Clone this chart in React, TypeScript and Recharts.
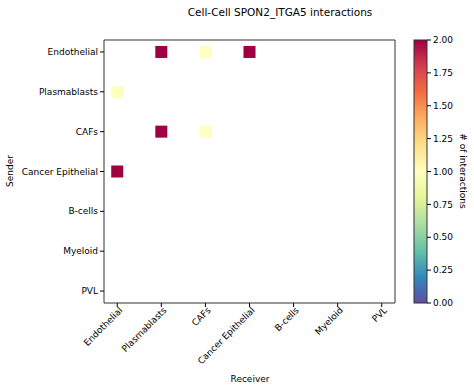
import React from 'react';
import {
  ScatterChart,
  Scatter,
  XAxis,
  YAxis,
  ReferenceArea,
} from 'recharts';

const receivers = ['Endothelial', 'Plasmablasts', 'CAFs', 'Cancer Epithelial', 'B-cells', 'Myeloid', 'PVL'];
const senders = ['Endothelial', 'Plasmablasts', 'CAFs', 'Cancer Epithelial', 'B-cells', 'Myeloid', 'PVL'];

// [receiver, sender, count]
const interactions: [string, string, number][] = [
  ['Plasmablasts', 'Endothelial', 2],
  ['CAFs', 'Endothelial', 1],
  ['Cancer Epithelial', 'Endothelial', 2],
  ['Endothelial', 'Plasmablasts', 1],
  ['Plasmablasts', 'CAFs', 2],
  ['CAFs', 'CAFs', 1],
  ['Endothelial', 'Cancer Epithelial', 2],
];

const colorbarTicks = [0, 0.25, 0.5, 0.75, 1, 1.25, 1.5, 1.75, 2];
const vmin = 0;
const vmax = 2;

// Spectral_r
const spectral = ['#5e4fa2', '#3288bd', '#66c2a5', '#abdda4', '#e6f598', '#ffffbf', '#fee08b', '#fdae61', '#f46d43', '#d53e4f', '#9e0142'];

const hex = (h: string) => [1, 3, 5].map((i) => parseInt(h.slice(i, i + 2), 16));
const colorFor = (v: number) => {
  const t = Math.max(0, Math.min(1, (v - vmin) / (vmax - vmin))) * (spectral.length - 1);
  const i = Math.min(Math.floor(t), spectral.length - 2);
  const f = t - i;
  const a = hex(spectral[i]);
  const b = hex(spectral[i + 1]);
  const c = a.map((x, k) => Math.round(x + (b[k] - x) * f));
  return `rgb(${c[0]},${c[1]},${c[2]})`;
};

const data = interactions.map(([r, s, n]) => ({
  x: receivers.indexOf(r),
  y: senders.indexOf(s),
  n,
}));

const FONT = 'DejaVu Sans, sans-serif';

const Square = (props: any) => {
  const { cx, cy, payload } = props;
  const s = 12;
  return <rect x={cx - s / 2} y={cy - s / 2} width={s} height={s} fill={colorFor(payload.n)} />;
};

const XTick = (props: any) => {
  const { x, y, payload } = props;
  return (
    <text
      transform={`translate(${x + 2},${y - 2}) rotate(-45)`}
      textAnchor="end"
      dy="0.6em"
      fontSize={9}
      fontFamily={FONT}
      fill="#000"
    >
      {receivers[payload.value]}
    </text>
  );
};

const YTick = (props: any) => {
  const { x, y, payload } = props;
  return (
    <text x={x} y={y} dy="0.35em" textAnchor="end" fontSize={9} fontFamily={FONT} fill="#000">
      {senders[payload.value]}
    </text>
  );
};

const CB = { x: 414, y: 40, w: 13, h: 263 };

export default function App() {
  return (
    <div style={{ position: 'absolute', left: 0, top: 0, width: 474, height: 390, background: '#fff' }}>
      <ScatterChart width={474} height={390} margin={{ top: 40, right: 79, bottom: 0, left: 0 }}>
        <XAxis
          type="number"
          dataKey="x"
          domain={[-0.3, 6.3]}
          ticks={[0, 1, 2, 3, 4, 5, 6]}
          height={87}
          tick={<XTick />}
          tickSize={4}
          axisLine={false}
          tickLine={{ stroke: '#000' }}
          allowDataOverflow
        />
        <YAxis
          type="number"
          dataKey="y"
          domain={[-0.3, 6.3]}
          ticks={[0, 1, 2, 3, 4, 5, 6]}
          reversed
          width={104}
          tick={<YTick />}
          tickSize={4}
          axisLine={false}
          tickLine={{ stroke: '#000' }}
          allowDataOverflow
        />
        <ReferenceArea x1={-0.3} x2={6.3} y1={-0.3} y2={6.3} fill="none" stroke="#333" strokeWidth={1} fillOpacity={0} />
        <Scatter data={data} shape={<Square />} isAnimationActive={false} />
      </ScatterChart>
      <svg
        width={474}
        height={390}
        style={{ position: 'absolute', left: 0, top: 0, pointerEvents: 'none' }}
        fontFamily={FONT}
      >
        <defs>
          <linearGradient id="cmap" x1="0" y1="1" x2="0" y2="0">
            {spectral.map((c, i) => (
              <stop key={i} offset={i / (spectral.length - 1)} stopColor={c} />
            ))}
          </linearGradient>
        </defs>
        <text x={280} y={16} textAnchor="middle" fontSize={10.5} fill="#000">
          Cell-Cell SPON2_ITGA5 interactions
        </text>
        <text x={250} y={382} textAnchor="middle" fontSize={9} fill="#000">
          Receiver
        </text>
        <text transform="translate(13,171) rotate(-90)" textAnchor="middle" fontSize={9} fill="#000">
          Sender
        </text>
        <rect x={CB.x} y={CB.y} width={CB.w} height={CB.h} fill="url(#cmap)" stroke="#333" strokeWidth={1} />
        {colorbarTicks.map((t) => {
          const ty = CB.y + CB.h - ((t - vmin) / (vmax - vmin)) * CB.h;
          return (
            <g key={t}>
              <line x1={CB.x + CB.w} x2={CB.x + CB.w + 4} y1={ty} y2={ty} stroke="#000" />
              <text x={CB.x + CB.w + 6} y={ty} dy="0.35em" fontSize={9} fill="#000">
                {t.toFixed(2)}
              </text>
            </g>
          );
        })}
        <text transform="translate(460,171) rotate(90)" textAnchor="middle" fontSize={9} fill="#000">
          # of interactions
        </text>
      </svg>
    </div>
  );
}
